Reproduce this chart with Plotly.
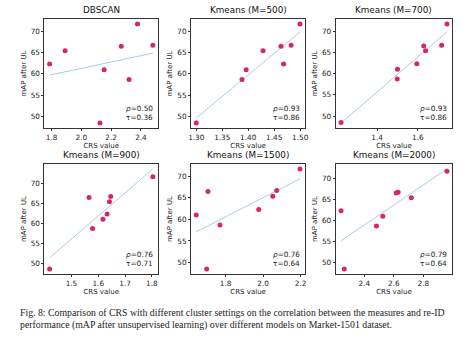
import numpy as np
import plotly.graph_objects as go

# mAP after unsupervised learning for 8 models (same for every panel)
map_ul = [48.5, 58.7, 61.0, 62.3, 65.4, 66.5, 66.7, 71.7]

titles = ["DBSCAN", "Kmeans (M=500)", "Kmeans (M=700)",
          "Kmeans (M=900)", "Kmeans (M=1500)", "Kmeans (M=2000)"]

crs_dbscan = [2.125, 2.320, 2.153, 1.787, 1.891, 2.268, 2.480, 2.377]
crs_m500 = [1.300, 1.388, 1.396, 1.468, 1.4285, 1.463, 1.4826, 1.4995]
crs_m700 = [1.223, 1.499, 1.500, 1.595, 1.638, 1.629, 1.717, 1.743]
crs_m900 = [1.4187, 1.5788, 1.6175, 1.633, 1.6417, 1.5656, 1.6465, 1.8036]
crs_m1500 = [1.699, 1.770, 1.6435, 1.977, 2.052, 1.706, 2.073, 2.197]
crs_m2000 = [2.265, 2.483, 2.526, 2.243, 2.719, 2.616, 2.629, 2.960]
crs_all = [crs_dbscan, crs_m500, crs_m700, crs_m900, crs_m1500, crs_m2000]

rho = ["0.50", "0.93", "0.93", "0.76", "0.76", "0.79"]
tau = ["0.36", "0.86", "0.86", "0.71", "0.64", "0.64"]

xticks = [[1.8, 2.0, 2.2, 2.4],
          [1.30, 1.35, 1.40, 1.45, 1.50],
          [1.4, 1.6],
          [1.5, 1.6, 1.7, 1.8],
          [1.8, 2.0, 2.2],
          [2.4, 2.6, 2.8]]
xtickfmt = [".1f", ".2f", ".1f", ".1f", ".1f", ".1f"]
yticks = [50, 55, 60, 65, 70]

caption1 = ("Fig. 8: Comparison of CRS with different cluster settings on the correlation "
            "between the measures and re-ID")
caption2 = ("performance (mAP after unsupervised learning) over different models on "
            "Market-1501 dataset.")

W, H = 474, 340
xdom_px = [(42, 157), (190.5, 306), (337, 455)]
ydom_px = [(19, 128), (164, 274)]

PT = "#d6246e"
LN = "#a9cfe0"
FONT = "DejaVu Sans"

fig = go.Figure()
annotations = []
for i in range(6):
    r, c = divmod(i, 3)
    ax = "" if i == 0 else str(i + 1)
    x = np.array(crs_all[i])
    y = np.array(map_ul)
    k, b = np.polyfit(x, y, 1)
    lx = np.array([x.min(), x.max()])
    ly = k * lx + b
    fig.add_trace(go.Scatter(x=lx, y=ly, mode="lines",
                             line=dict(color=LN, width=1),
                             xaxis="x" + ax, yaxis="y" + ax, showlegend=False))
    fig.add_trace(go.Scatter(x=x, y=y, mode="markers",
                             marker=dict(color=PT, size=5),
                             xaxis="x" + ax, yaxis="y" + ax, showlegend=False))
    xs = x.max() - x.min()
    allY = np.concatenate([y, ly])
    ys = allY.max() - allY.min()
    xr = [x.min() - 0.05 * xs, x.max() + 0.05 * xs]
    yr = [allY.min() - 0.05 * ys, allY.max() + 0.05 * ys]
    x0, x1 = xdom_px[c]
    y0, y1 = ydom_px[r]
    common = dict(showline=True, mirror=True, linecolor="#333", linewidth=1,
                  showgrid=False, zeroline=False, ticks="outside", ticklen=2,
                  tickcolor="#333", tickfont=dict(family=FONT, size=7.3, color="#222"))
    fig.update_layout(**{
        "xaxis" + ax: dict(domain=[x0 / W, x1 / W], range=xr, anchor="y" + ax,
                           tickvals=xticks[i], tickformat=xtickfmt[i],
                           title=dict(text="CRS value", standoff=2,
                                      font=dict(family=FONT, size=7, color="#222")),
                           **common),
        "yaxis" + ax: dict(domain=[1 - y1 / H, 1 - y0 / H], range=yr, anchor="x" + ax,
                           tickvals=yticks,
                           title=dict(text="mAP after UL", standoff=3,
                                      font=dict(family=FONT, size=7, color="#222")),
                           **common),
    })
    annotations.append(dict(text=titles[i], xref="x" + ax + " domain", yref="y" + ax + " domain",
                            x=0.5, y=1.0, yshift=2, xanchor="center", yanchor="bottom",
                            showarrow=False, font=dict(family=FONT, size=8.8, color="#111")))
    annotations.append(dict(text=f"<i>ρ</i>={rho[i]}<br>τ={tau[i]}", xref="x" + ax + " domain",
                            yref="y" + ax + " domain", x=0.97, y=0.04, xanchor="right",
                            yanchor="bottom", align="left", showarrow=False,
                            font=dict(family=FONT, size=7.3, color="#222")))

annotations.append(dict(text=caption1, xref="paper", yref="paper", x=15 / W, y=1 - 312 / H,
                        xanchor="left", yanchor="middle", showarrow=False,
                        font=dict(family="Liberation Serif", size=9.8, color="#222")))
annotations.append(dict(text=caption2, xref="paper", yref="paper", x=15 / W, y=1 - 324.5 / H,
                        xanchor="left", yanchor="middle", showarrow=False,
                        font=dict(family="Liberation Serif", size=9.8, color="#222")))

fig.update_layout(width=W, height=H, margin=dict(l=0, r=0, t=0, b=0),
                  paper_bgcolor="white", plot_bgcolor="white",
                  annotations=annotations)
fig.write_html("out.html")
